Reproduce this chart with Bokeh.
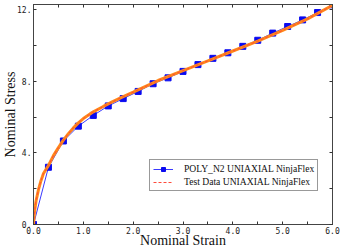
from bokeh.plotting import figure
from bokeh.models import LinearAxis, FixedTicker, Legend, LegendItem, Range1d
from bokeh.embed import file_html
from bokeh.resources import INLINE

# POLY_N2 model curve (markers)
model_strain = [0.0, 0.3, 0.6, 0.9, 1.2, 1.5, 1.8, 2.1, 2.4, 2.7, 3.0, 3.3, 3.6, 3.9, 4.2, 4.5, 4.8, 5.1, 5.4, 5.7, 6.0]
model_stress = [0.0, 3.2, 4.67, 5.5, 6.1, 6.63, 7.04, 7.44, 7.87, 8.2, 8.56, 8.94, 9.29, 9.6, 9.96, 10.3, 10.7, 11.07, 11.44, 11.85, 12.28]

# Test data
test_strain = [0.0, 0.02, 0.05, 0.1, 0.15, 0.2, 0.3, 0.4, 0.5, 0.6, 0.7, 0.8, 0.9, 1.0, 1.2, 1.4, 1.6, 1.8, 2.0, 2.5, 3.0, 3.5, 4.0, 4.5, 5.0, 5.5, 6.0]
test_stress = [0.0, 0.7, 1.3, 1.95, 2.45, 2.85, 3.3, 3.85, 4.3, 4.72, 5.08, 5.4, 5.68, 5.92, 6.3, 6.6, 6.88, 7.15, 7.4, 8.05, 8.6, 9.15, 9.7, 10.25, 10.85, 11.5, 12.25]

x_ticks = [0.0, 0.5, 1.0, 1.5, 2.0, 2.5, 3.0, 3.5, 4.0, 4.5, 5.0, 5.5, 6.0]
x_labels = {0: "0.0", 1: "1.0", 2: "2.0", 3: "3.0", 4: "4.0", 5: "5.0", 6: "6.0"}
y_ticks = [0, 2, 4, 6, 8, 10, 12]
y_labels = {0: "0.", 4: "4.", 8: "8.", 12: "12."}
x_title = "Nominal Strain"
y_title = "Nominal Stress"

p = figure(width=342, height=250, output_backend="svg", toolbar_location=None,
           x_range=Range1d(0, 6), y_range=Range1d(0, 12.3),
           x_axis_location=None, y_axis_location=None,
           min_border_left=32, min_border_right=10, min_border_top=4, min_border_bottom=0)
p.grid.visible = False
p.outline_line_color = "#222222"
p.background_fill_color = "white"

def style(ax):
    ax.axis_line_color = "#444444"
    ax.major_tick_in = 3
    ax.major_tick_out = 0
    ax.minor_tick_line_color = None
    ax.major_tick_line_color = "#333333"
    ax.major_label_text_font = "DejaVu Sans Mono"
    ax.major_label_text_font_size = "8px"
    ax.major_label_text_color = "#222222"
    ax.major_label_standoff = 2
    ax.axis_label_text_font = "Liberation Serif"
    ax.axis_label_text_font_size = "14px"
    ax.axis_label_text_font_style = "normal"
    ax.axis_label_text_color = "#111111"
    ax.axis_label_standoff = -4

xb = LinearAxis(ticker=FixedTicker(ticks=x_ticks), axis_label=x_title)
xb.major_label_overrides = {t: x_labels.get(t, "") for t in x_ticks}
style(xb)
p.add_layout(xb, "below")

yl = LinearAxis(ticker=FixedTicker(ticks=y_ticks), axis_label=y_title)
yl.major_label_overrides = {t: y_labels.get(t, "") for t in y_ticks}
style(yl)
p.add_layout(yl, "left")

xt = LinearAxis(ticker=FixedTicker(ticks=x_ticks))
style(xt)
xt.major_label_text_font_size = "0px"
xt.major_label_standoff = 0
xt.major_label_overrides = {t: "" for t in x_ticks}
p.add_layout(xt, "above")

yr = LinearAxis(ticker=FixedTicker(ticks=y_ticks))
style(yr)
yr.major_label_text_font_size = "0px"
yr.major_label_standoff = 0
yr.major_label_overrides = {t: "" for t in y_ticks}
p.add_layout(yr, "right")

blue_l = p.line(model_strain, model_stress, line_color="#3a3aff", line_width=1)
blue_m = p.scatter(model_strain, model_stress, marker="square", size=6, fill_color="#0a0af0", line_color="#0a0af0")
orange = p.line(test_strain, test_stress, line_color="#ff8a1a", line_width=3)
red = p.line(test_strain, test_stress, line_color="#ff4a3a", line_width=1, line_dash="3 2")

legend = Legend(items=[
    LegendItem(label="POLY_N2 UNIAXIAL NinjaFlex", renderers=[blue_l, blue_m]),
    LegendItem(label="Test Data UNIAXIAL NinjaFlex", renderers=[red]),
], location=(116, 33))
legend.label_text_font = "Liberation Serif"
legend.label_text_font_size = "9.6px"
legend.label_text_color = "#111111"
legend.border_line_color = "#333333"
legend.border_line_width = 1
legend.background_fill_alpha = 1
legend.glyph_width = 20
legend.glyph_height = 10
legend.label_height = 10
legend.spacing = 2
legend.padding = 3
legend.margin = 0
legend.label_standoff = 11
p.add_layout(legend, "center")

open("out.html", "w").write(file_html(p, INLINE))
